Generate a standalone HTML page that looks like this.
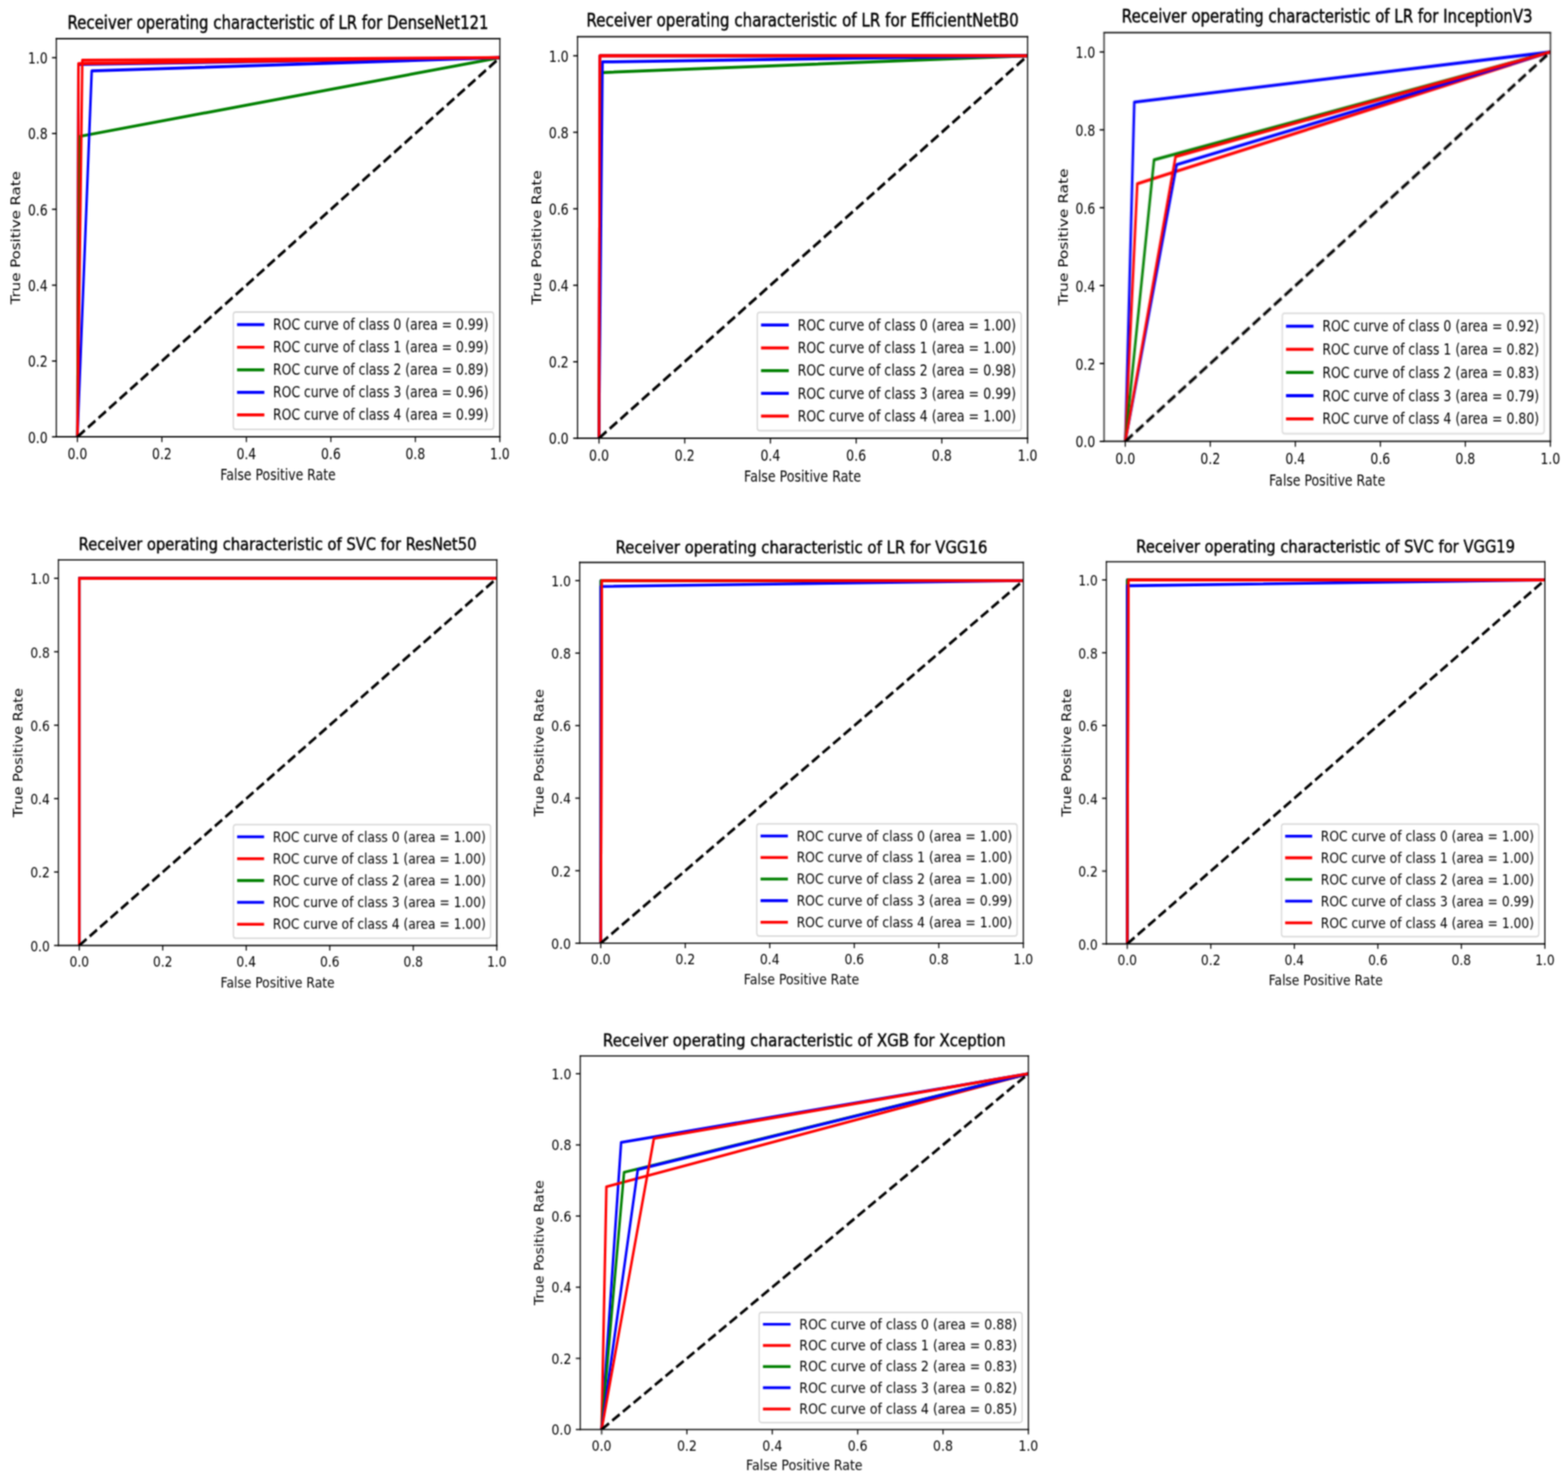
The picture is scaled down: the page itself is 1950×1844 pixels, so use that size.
<!DOCTYPE html>
<html><head><meta charset="utf-8"><title>ROC curves</title>
<style>html,body{margin:0;padding:0;background:#fff;}svg{display:block;}
svg *{stroke-linejoin:round;stroke-linecap:butt;}
svg text[style*="font-size: 12px"]{stroke:#000;stroke-width:0.28px;}</style></head>
<body><svg width="1950" height="1844" viewBox="0 0 1950 1844">
<defs><clipPath id="c0_pd0f956aa7e"> <rect x="57.6" y="41.472" width="357.12" height="266.112" /> </clipPath> <clipPath id="c1_pd0f956aa7e"> <rect x="57.6" y="41.472" width="357.12" height="266.112" /> </clipPath> <clipPath id="c2_pd0f956aa7e"> <rect x="57.6" y="41.472" width="357.12" height="266.112" /> </clipPath> <clipPath id="c3_pd0f956aa7e"> <rect x="57.6" y="41.472" width="357.12" height="266.112" /> </clipPath> <clipPath id="c4_pd0f956aa7e"> <rect x="57.6" y="41.472" width="357.12" height="266.112" /> </clipPath> <clipPath id="c5_pd0f956aa7e"> <rect x="57.6" y="41.472" width="357.12" height="266.112" /> </clipPath> <clipPath id="c6_pd0f956aa7e"> <rect x="57.6" y="41.472" width="357.12" height="266.112" /> </clipPath> <filter id="soft" x="0" y="0" width="1950" height="1844" filterUnits="userSpaceOnUse" color-interpolation-filters="sRGB"><feConvolveMatrix order="5" kernelMatrix="0.00087 0.00695 0.01388 0.00695 0.00087 0.00695 0.05540 0.11068 0.05540 0.00695 0.01388 0.11068 0.22111 0.11068 0.01388 0.00695 0.05540 0.11068 0.05540 0.00695 0.00087 0.00695 0.01388 0.00695 0.00087" edgeMode="duplicate"/></filter></defs>
<g filter="url(#soft)"><rect x="0" y="0" width="1950" height="1844" fill="#ffffff"/><g transform="matrix(1.54444 0 0 1.86049 -18.910 -29.058)"><g> <g> <path d="M 57.6 307.584  L 414.72 307.584  L 414.72 41.472  L 57.6 41.472  z " style="fill: #ffffff" /> </g> <g> <g> <g> <g> <path d="M 0 0  L 0 3.5  " transform="translate(74.605714 307.584)" style="stroke: #000000; stroke-width: 0.9" /></g> </g> <g> <text style="font-size: 10px; font-family: 'DejaVu Sans', 'Liberation Sans', sans-serif; text-anchor: middle" x="74.605714" y="322.504" transform="rotate(-0 74.605714 322.504)">0.0</text> </g> </g> <g> <g> <g> <path d="M 0 0  L 0 3.5  " transform="translate(142.628571 307.584)" style="stroke: #000000; stroke-width: 0.9" /></g> </g> <g> <text style="font-size: 10px; font-family: 'DejaVu Sans', 'Liberation Sans', sans-serif; text-anchor: middle" x="142.628571" y="322.504" transform="rotate(-0 142.628571 322.504)">0.2</text> </g> </g> <g> <g> <g> <path d="M 0 0  L 0 3.5  " transform="translate(210.651429 307.584)" style="stroke: #000000; stroke-width: 0.9" /></g> </g> <g> <text style="font-size: 10px; font-family: 'DejaVu Sans', 'Liberation Sans', sans-serif; text-anchor: middle" x="210.651429" y="322.504" transform="rotate(-0 210.651429 322.504)">0.4</text> </g> </g> <g> <g> <g> <path d="M 0 0  L 0 3.5  " transform="translate(278.674286 307.584)" style="stroke: #000000; stroke-width: 0.9" /></g> </g> <g> <text style="font-size: 10px; font-family: 'DejaVu Sans', 'Liberation Sans', sans-serif; text-anchor: middle" x="278.674286" y="322.504" transform="rotate(-0 278.674286 322.504)">0.6</text> </g> </g> <g> <g> <g> <path d="M 0 0  L 0 3.5  " transform="translate(346.697143 307.584)" style="stroke: #000000; stroke-width: 0.9" /></g> </g> <g> <text style="font-size: 10px; font-family: 'DejaVu Sans', 'Liberation Sans', sans-serif; text-anchor: middle" x="346.697143" y="322.504" transform="rotate(-0 346.697143 322.504)">0.8</text> </g> </g> <g> <g> <g> <path d="M 0 0  L 0 3.5  " transform="translate(414.72 307.584)" style="stroke: #000000; stroke-width: 0.9" /></g> </g> <g> <text style="font-size: 10px; font-family: 'DejaVu Sans', 'Liberation Sans', sans-serif; text-anchor: middle" x="414.72" y="322.504" transform="rotate(-0 414.72 322.504)">1.0</text> </g> </g> <g> <text style="font-size: 10px; font-family: 'DejaVu Sans', 'Liberation Sans', sans-serif; text-anchor: middle" x="236.16" y="336.584" transform="rotate(-0 236.16 336.584)">False Positive Rate</text> </g> </g> <g> <g> <g> <g> <path d="M 0 0  L -3.5 0  " transform="translate(57.6 307.584)" style="stroke: #000000; stroke-width: 0.9" /></g> </g> <g> <text style="font-size: 10px; font-family: 'DejaVu Sans', 'Liberation Sans', sans-serif; text-anchor: end" x="50.6" y="311.544" transform="rotate(-0 50.6 311.544)">0.0</text> </g> </g> <g> <g> <g> <path d="M 0 0  L -3.5 0  " transform="translate(57.6 256.896)" style="stroke: #000000; stroke-width: 0.9" /></g> </g> <g> <text style="font-size: 10px; font-family: 'DejaVu Sans', 'Liberation Sans', sans-serif; text-anchor: end" x="50.6" y="260.856" transform="rotate(-0 50.6 260.856)">0.2</text> </g> </g> <g> <g> <g> <path d="M 0 0  L -3.5 0  " transform="translate(57.6 206.208)" style="stroke: #000000; stroke-width: 0.9" /></g> </g> <g> <text style="font-size: 10px; font-family: 'DejaVu Sans', 'Liberation Sans', sans-serif; text-anchor: end" x="50.6" y="210.168" transform="rotate(-0 50.6 210.168)">0.4</text> </g> </g> <g> <g> <g> <path d="M 0 0  L -3.5 0  " transform="translate(57.6 155.52)" style="stroke: #000000; stroke-width: 0.9" /></g> </g> <g> <text style="font-size: 10px; font-family: 'DejaVu Sans', 'Liberation Sans', sans-serif; text-anchor: end" x="50.6" y="159.48" transform="rotate(-0 50.6 159.48)">0.6</text> </g> </g> <g> <g> <g> <path d="M 0 0  L -3.5 0  " transform="translate(57.6 104.832)" style="stroke: #000000; stroke-width: 0.9" /></g> </g> <g> <text style="font-size: 10px; font-family: 'DejaVu Sans', 'Liberation Sans', sans-serif; text-anchor: end" x="50.6" y="108.792" transform="rotate(-0 50.6 108.792)">0.8</text> </g> </g> <g> <g> <g> <path d="M 0 0  L -3.5 0  " transform="translate(57.6 54.144)" style="stroke: #000000; stroke-width: 0.9" /></g> </g> <g> <text style="font-size: 10px; font-family: 'DejaVu Sans', 'Liberation Sans', sans-serif; text-anchor: end" x="50.6" y="58.104" transform="rotate(-0 50.6 58.104)">1.0</text> </g> </g> <g> <text style="font-size: 10px; font-family: 'DejaVu Sans', 'Liberation Sans', sans-serif; text-anchor: middle" x="28.6" y="174.528" transform="rotate(-90 28.6 174.528)">True Positive Rate</text> </g> </g> <g> <path d="M 74.605714 307.584  L 75.387977 58.70592  L 414.72 54.144  " clip-path="url(#c0_pd0f956aa7e)" style="fill: none; stroke: #0000ff; stroke-width: 2; stroke-linecap: square" /> </g> <g> <path d="M 74.605714 307.584  L 75.387977 58.19904  L 414.72 54.144  " clip-path="url(#c0_pd0f956aa7e)" style="fill: none; stroke: #ff0000; stroke-width: 2; stroke-linecap: square" /> </g> <g> <path d="M 74.605714 307.584  L 76.748434 106.707456  L 414.72 54.144  " clip-path="url(#c0_pd0f956aa7e)" style="fill: none; stroke: #008000; stroke-width: 2; stroke-linecap: square" /> </g> <g> <path d="M 74.605714 307.584  L 86.101577 63.0144  L 414.72 54.144  " clip-path="url(#c0_pd0f956aa7e)" style="fill: none; stroke: #0000ff; stroke-width: 2; stroke-linecap: square" /> </g> <g> <path d="M 74.605714 307.584  L 78.517029 55.91808  L 414.72 54.144  " clip-path="url(#c0_pd0f956aa7e)" style="fill: none; stroke: #ff0000; stroke-width: 2; stroke-linecap: square" /> </g> <g> <path d="M 74.605714 307.584  L 414.72 54.144  " clip-path="url(#c0_pd0f956aa7e)" style="fill: none; stroke-dasharray: 7.4,3.2; stroke-dashoffset: 0; stroke: #000000; stroke-width: 2" /> </g> <g> <path d="M 57.6 307.584  L 57.6 41.472  " style="fill: none; stroke: #000000; stroke-width: 0.9; stroke-linejoin: miter; stroke-linecap: square" /> </g> <g> <path d="M 414.72 307.584  L 414.72 41.472  " style="fill: none; stroke: #000000; stroke-width: 0.9; stroke-linejoin: miter; stroke-linecap: square" /> </g> <g> <path d="M 57.6 307.584  L 414.72 307.584  " style="fill: none; stroke: #000000; stroke-width: 0.9; stroke-linejoin: miter; stroke-linecap: square" /> </g> <g> <path d="M 57.6 41.472  L 414.72 41.472  " style="fill: none; stroke: #000000; stroke-width: 0.9; stroke-linejoin: miter; stroke-linecap: square" /> </g> <g> <text style="font-size: 12px; font-family: 'DejaVu Sans', 'Liberation Sans', sans-serif; text-anchor: middle" x="236.16" y="35.472" transform="translate(0 -0.5912) rotate(-0 236.16 35.472)">Receiver operating characteristic of LR for DenseNet121</text> </g> <g> <g> <path d="M 202.11 302.584  L 407.72 302.584  Q 409.72 302.584 409.72 300.584  L 409.72 226.184  Q 409.72 224.184 407.72 224.184  L 202.11 224.184  Q 200.11 224.184 200.11 226.184  L 200.11 300.584  Q 200.11 302.584 202.11 302.584  z " style="fill: #ffffff; opacity: 0.8; stroke: #cccccc; stroke-linejoin: miter" /> </g> <g> <path d="M 204.11 232.604  L 214.11 232.604  L 224.11 232.604  " style="fill: none; stroke: #0000ff; stroke-width: 2; stroke-linecap: square" /> </g> <g> <text style="font-size: 10px; font-family: 'DejaVu Sans', 'Liberation Sans', sans-serif; text-anchor: start" x="232.11" y="236.104" transform="rotate(-0 232.11 236.104)">ROC curve of class 0 (area = 0.99)</text> </g> <g> <path d="M 204.11 247.684  L 214.11 247.684  L 224.11 247.684  " style="fill: none; stroke: #ff0000; stroke-width: 2; stroke-linecap: square" /> </g> <g> <text style="font-size: 10px; font-family: 'DejaVu Sans', 'Liberation Sans', sans-serif; text-anchor: start" x="232.11" y="251.184" transform="rotate(-0 232.11 251.184)">ROC curve of class 1 (area = 0.99)</text> </g> <g> <path d="M 204.11 262.764  L 214.11 262.764  L 224.11 262.764  " style="fill: none; stroke: #008000; stroke-width: 2; stroke-linecap: square" /> </g> <g> <text style="font-size: 10px; font-family: 'DejaVu Sans', 'Liberation Sans', sans-serif; text-anchor: start" x="232.11" y="266.264" transform="rotate(-0 232.11 266.264)">ROC curve of class 2 (area = 0.89)</text> </g> <g> <path d="M 204.11 277.844  L 214.11 277.844  L 224.11 277.844  " style="fill: none; stroke: #0000ff; stroke-width: 2; stroke-linecap: square" /> </g> <g> <text style="font-size: 10px; font-family: 'DejaVu Sans', 'Liberation Sans', sans-serif; text-anchor: start" x="232.11" y="281.344" transform="rotate(-0 232.11 281.344)">ROC curve of class 3 (area = 0.96)</text> </g> <g> <path d="M 204.11 292.924  L 214.11 292.924  L 224.11 292.924  " style="fill: none; stroke: #ff0000; stroke-width: 2; stroke-linecap: square" /> </g> <g> <text style="font-size: 10px; font-family: 'DejaVu Sans', 'Liberation Sans', sans-serif; text-anchor: start" x="232.11" y="296.424" transform="rotate(-0 232.11 296.424)">ROC curve of class 4 (area = 0.99)</text> </g> </g> </g> </g><g transform="matrix(1.56698 0 0 1.87628 628.042 -32.213)"><g> <g> <path d="M 57.6 307.584  L 414.72 307.584  L 414.72 41.472  L 57.6 41.472  z " style="fill: #ffffff" /> </g> <g> <g> <g> <g> <path d="M 0 0  L 0 3.5  " transform="translate(74.605714 307.584)" style="stroke: #000000; stroke-width: 0.9" /></g> </g> <g> <text style="font-size: 10px; font-family: 'DejaVu Sans', 'Liberation Sans', sans-serif; text-anchor: middle" x="74.605714" y="322.504" transform="rotate(-0 74.605714 322.504)">0.0</text> </g> </g> <g> <g> <g> <path d="M 0 0  L 0 3.5  " transform="translate(142.628571 307.584)" style="stroke: #000000; stroke-width: 0.9" /></g> </g> <g> <text style="font-size: 10px; font-family: 'DejaVu Sans', 'Liberation Sans', sans-serif; text-anchor: middle" x="142.628571" y="322.504" transform="rotate(-0 142.628571 322.504)">0.2</text> </g> </g> <g> <g> <g> <path d="M 0 0  L 0 3.5  " transform="translate(210.651429 307.584)" style="stroke: #000000; stroke-width: 0.9" /></g> </g> <g> <text style="font-size: 10px; font-family: 'DejaVu Sans', 'Liberation Sans', sans-serif; text-anchor: middle" x="210.651429" y="322.504" transform="rotate(-0 210.651429 322.504)">0.4</text> </g> </g> <g> <g> <g> <path d="M 0 0  L 0 3.5  " transform="translate(278.674286 307.584)" style="stroke: #000000; stroke-width: 0.9" /></g> </g> <g> <text style="font-size: 10px; font-family: 'DejaVu Sans', 'Liberation Sans', sans-serif; text-anchor: middle" x="278.674286" y="322.504" transform="rotate(-0 278.674286 322.504)">0.6</text> </g> </g> <g> <g> <g> <path d="M 0 0  L 0 3.5  " transform="translate(346.697143 307.584)" style="stroke: #000000; stroke-width: 0.9" /></g> </g> <g> <text style="font-size: 10px; font-family: 'DejaVu Sans', 'Liberation Sans', sans-serif; text-anchor: middle" x="346.697143" y="322.504" transform="rotate(-0 346.697143 322.504)">0.8</text> </g> </g> <g> <g> <g> <path d="M 0 0  L 0 3.5  " transform="translate(414.72 307.584)" style="stroke: #000000; stroke-width: 0.9" /></g> </g> <g> <text style="font-size: 10px; font-family: 'DejaVu Sans', 'Liberation Sans', sans-serif; text-anchor: middle" x="414.72" y="322.504" transform="rotate(-0 414.72 322.504)">1.0</text> </g> </g> <g> <text style="font-size: 10px; font-family: 'DejaVu Sans', 'Liberation Sans', sans-serif; text-anchor: middle" x="236.16" y="336.584" transform="rotate(-0 236.16 336.584)">False Positive Rate</text> </g> </g> <g> <g> <g> <g> <path d="M 0 0  L -3.5 0  " transform="translate(57.6 307.584)" style="stroke: #000000; stroke-width: 0.9" /></g> </g> <g> <text style="font-size: 10px; font-family: 'DejaVu Sans', 'Liberation Sans', sans-serif; text-anchor: end" x="50.6" y="311.544" transform="rotate(-0 50.6 311.544)">0.0</text> </g> </g> <g> <g> <g> <path d="M 0 0  L -3.5 0  " transform="translate(57.6 256.896)" style="stroke: #000000; stroke-width: 0.9" /></g> </g> <g> <text style="font-size: 10px; font-family: 'DejaVu Sans', 'Liberation Sans', sans-serif; text-anchor: end" x="50.6" y="260.856" transform="rotate(-0 50.6 260.856)">0.2</text> </g> </g> <g> <g> <g> <path d="M 0 0  L -3.5 0  " transform="translate(57.6 206.208)" style="stroke: #000000; stroke-width: 0.9" /></g> </g> <g> <text style="font-size: 10px; font-family: 'DejaVu Sans', 'Liberation Sans', sans-serif; text-anchor: end" x="50.6" y="210.168" transform="rotate(-0 50.6 210.168)">0.4</text> </g> </g> <g> <g> <g> <path d="M 0 0  L -3.5 0  " transform="translate(57.6 155.52)" style="stroke: #000000; stroke-width: 0.9" /></g> </g> <g> <text style="font-size: 10px; font-family: 'DejaVu Sans', 'Liberation Sans', sans-serif; text-anchor: end" x="50.6" y="159.48" transform="rotate(-0 50.6 159.48)">0.6</text> </g> </g> <g> <g> <g> <path d="M 0 0  L -3.5 0  " transform="translate(57.6 104.832)" style="stroke: #000000; stroke-width: 0.9" /></g> </g> <g> <text style="font-size: 10px; font-family: 'DejaVu Sans', 'Liberation Sans', sans-serif; text-anchor: end" x="50.6" y="108.792" transform="rotate(-0 50.6 108.792)">0.8</text> </g> </g> <g> <g> <g> <path d="M 0 0  L -3.5 0  " transform="translate(57.6 54.144)" style="stroke: #000000; stroke-width: 0.9" /></g> </g> <g> <text style="font-size: 10px; font-family: 'DejaVu Sans', 'Liberation Sans', sans-serif; text-anchor: end" x="50.6" y="58.104" transform="rotate(-0 50.6 58.104)">1.0</text> </g> </g> <g> <text style="font-size: 10px; font-family: 'DejaVu Sans', 'Liberation Sans', sans-serif; text-anchor: middle" x="28.6" y="174.528" transform="rotate(-90 28.6 174.528)">True Positive Rate</text> </g> </g> <g> <path d="M 74.605714 307.584  L 75.285943 54.144  L 414.72 54.144  " clip-path="url(#c1_pd0f956aa7e)" style="fill: none; stroke: #0000ff; stroke-width: 2; stroke-linecap: square" /> </g> <g> <path d="M 74.605714 307.584  L 75.285943 54.144  L 414.72 54.144  " clip-path="url(#c1_pd0f956aa7e)" style="fill: none; stroke: #ff0000; stroke-width: 2; stroke-linecap: square" /> </g> <g> <path d="M 74.605714 307.584  L 75.966171 65.29536  L 414.72 54.144  " clip-path="url(#c1_pd0f956aa7e)" style="fill: none; stroke: #008000; stroke-width: 2; stroke-linecap: square" /> </g> <g> <path d="M 74.605714 307.584  L 77.394651 58.19904  L 414.72 54.144  " clip-path="url(#c1_pd0f956aa7e)" style="fill: none; stroke: #0000ff; stroke-width: 2; stroke-linecap: square" /> </g> <g> <path d="M 74.605714 307.584  L 75.285943 54.144  L 414.72 54.144  " clip-path="url(#c1_pd0f956aa7e)" style="fill: none; stroke: #ff0000; stroke-width: 2; stroke-linecap: square" /> </g> <g> <path d="M 74.605714 307.584  L 414.72 54.144  " clip-path="url(#c1_pd0f956aa7e)" style="fill: none; stroke-dasharray: 7.4,3.2; stroke-dashoffset: 0; stroke: #000000; stroke-width: 2" /> </g> <g> <path d="M 57.6 307.584  L 57.6 41.472  " style="fill: none; stroke: #000000; stroke-width: 0.9; stroke-linejoin: miter; stroke-linecap: square" /> </g> <g> <path d="M 414.72 307.584  L 414.72 41.472  " style="fill: none; stroke: #000000; stroke-width: 0.9; stroke-linejoin: miter; stroke-linecap: square" /> </g> <g> <path d="M 57.6 307.584  L 414.72 307.584  " style="fill: none; stroke: #000000; stroke-width: 0.9; stroke-linejoin: miter; stroke-linecap: square" /> </g> <g> <path d="M 57.6 41.472  L 414.72 41.472  " style="fill: none; stroke: #000000; stroke-width: 0.9; stroke-linejoin: miter; stroke-linecap: square" /> </g> <g> <text style="font-size: 12px; font-family: 'DejaVu Sans', 'Liberation Sans', sans-serif; text-anchor: middle" x="236.16" y="35.472" transform="translate(0 -0.5863) rotate(-0 236.16 35.472)">Receiver operating characteristic of LR for EfficientNetB0</text> </g> <g> <g> <path d="M 202.2 302.584  L 407.72 302.584  Q 409.72 302.584 409.72 300.584  L 409.72 226.184  Q 409.72 224.184 407.72 224.184  L 202.2 224.184  Q 200.2 224.184 200.2 226.184  L 200.2 300.584  Q 200.2 302.584 202.2 302.584  z " style="fill: #ffffff; opacity: 0.8; stroke: #cccccc; stroke-linejoin: miter" /> </g> <g> <path d="M 204.2 232.604  L 214.2 232.604  L 224.2 232.604  " style="fill: none; stroke: #0000ff; stroke-width: 2; stroke-linecap: square" /> </g> <g> <text style="font-size: 10px; font-family: 'DejaVu Sans', 'Liberation Sans', sans-serif; text-anchor: start" x="232.2" y="236.104" transform="rotate(-0 232.2 236.104)">ROC curve of class 0 (area = 1.00)</text> </g> <g> <path d="M 204.2 247.684  L 214.2 247.684  L 224.2 247.684  " style="fill: none; stroke: #ff0000; stroke-width: 2; stroke-linecap: square" /> </g> <g> <text style="font-size: 10px; font-family: 'DejaVu Sans', 'Liberation Sans', sans-serif; text-anchor: start" x="232.2" y="251.184" transform="rotate(-0 232.2 251.184)">ROC curve of class 1 (area = 1.00)</text> </g> <g> <path d="M 204.2 262.764  L 214.2 262.764  L 224.2 262.764  " style="fill: none; stroke: #008000; stroke-width: 2; stroke-linecap: square" /> </g> <g> <text style="font-size: 10px; font-family: 'DejaVu Sans', 'Liberation Sans', sans-serif; text-anchor: start" x="232.2" y="266.264" transform="rotate(-0 232.2 266.264)">ROC curve of class 2 (area = 0.98)</text> </g> <g> <path d="M 204.2 277.844  L 214.2 277.844  L 224.2 277.844  " style="fill: none; stroke: #0000ff; stroke-width: 2; stroke-linecap: square" /> </g> <g> <text style="font-size: 10px; font-family: 'DejaVu Sans', 'Liberation Sans', sans-serif; text-anchor: start" x="232.2" y="281.344" transform="rotate(-0 232.2 281.344)">ROC curve of class 3 (area = 0.99)</text> </g> <g> <path d="M 204.2 292.924  L 214.2 292.924  L 224.2 292.924  " style="fill: none; stroke: #ff0000; stroke-width: 2; stroke-linecap: square" /> </g> <g> <text style="font-size: 10px; font-family: 'DejaVu Sans', 'Liberation Sans', sans-serif; text-anchor: start" x="232.2" y="296.424" transform="rotate(-0 232.2 296.424)">ROC curve of class 4 (area = 1.00)</text> </g> </g> </g> </g><g transform="matrix(1.55438 0 0 1.91047 1283.468 -38.831)"><g> <g> <path d="M 57.6 307.584  L 414.72 307.584  L 414.72 41.472  L 57.6 41.472  z " style="fill: #ffffff" /> </g> <g> <g> <g> <g> <path d="M 0 0  L 0 3.5  " transform="translate(74.605714 307.584)" style="stroke: #000000; stroke-width: 0.9" /></g> </g> <g> <text style="font-size: 10px; font-family: 'DejaVu Sans', 'Liberation Sans', sans-serif; text-anchor: middle" x="74.605714" y="322.504" transform="rotate(-0 74.605714 322.504)">0.0</text> </g> </g> <g> <g> <g> <path d="M 0 0  L 0 3.5  " transform="translate(142.628571 307.584)" style="stroke: #000000; stroke-width: 0.9" /></g> </g> <g> <text style="font-size: 10px; font-family: 'DejaVu Sans', 'Liberation Sans', sans-serif; text-anchor: middle" x="142.628571" y="322.504" transform="rotate(-0 142.628571 322.504)">0.2</text> </g> </g> <g> <g> <g> <path d="M 0 0  L 0 3.5  " transform="translate(210.651429 307.584)" style="stroke: #000000; stroke-width: 0.9" /></g> </g> <g> <text style="font-size: 10px; font-family: 'DejaVu Sans', 'Liberation Sans', sans-serif; text-anchor: middle" x="210.651429" y="322.504" transform="rotate(-0 210.651429 322.504)">0.4</text> </g> </g> <g> <g> <g> <path d="M 0 0  L 0 3.5  " transform="translate(278.674286 307.584)" style="stroke: #000000; stroke-width: 0.9" /></g> </g> <g> <text style="font-size: 10px; font-family: 'DejaVu Sans', 'Liberation Sans', sans-serif; text-anchor: middle" x="278.674286" y="322.504" transform="rotate(-0 278.674286 322.504)">0.6</text> </g> </g> <g> <g> <g> <path d="M 0 0  L 0 3.5  " transform="translate(346.697143 307.584)" style="stroke: #000000; stroke-width: 0.9" /></g> </g> <g> <text style="font-size: 10px; font-family: 'DejaVu Sans', 'Liberation Sans', sans-serif; text-anchor: middle" x="346.697143" y="322.504" transform="rotate(-0 346.697143 322.504)">0.8</text> </g> </g> <g> <g> <g> <path d="M 0 0  L 0 3.5  " transform="translate(414.72 307.584)" style="stroke: #000000; stroke-width: 0.9" /></g> </g> <g> <text style="font-size: 10px; font-family: 'DejaVu Sans', 'Liberation Sans', sans-serif; text-anchor: middle" x="414.72" y="322.504" transform="rotate(-0 414.72 322.504)">1.0</text> </g> </g> <g> <text style="font-size: 10px; font-family: 'DejaVu Sans', 'Liberation Sans', sans-serif; text-anchor: middle" x="236.16" y="336.584" transform="rotate(-0 236.16 336.584)">False Positive Rate</text> </g> </g> <g> <g> <g> <g> <path d="M 0 0  L -3.5 0  " transform="translate(57.6 307.584)" style="stroke: #000000; stroke-width: 0.9" /></g> </g> <g> <text style="font-size: 10px; font-family: 'DejaVu Sans', 'Liberation Sans', sans-serif; text-anchor: end" x="50.6" y="311.544" transform="rotate(-0 50.6 311.544)">0.0</text> </g> </g> <g> <g> <g> <path d="M 0 0  L -3.5 0  " transform="translate(57.6 256.896)" style="stroke: #000000; stroke-width: 0.9" /></g> </g> <g> <text style="font-size: 10px; font-family: 'DejaVu Sans', 'Liberation Sans', sans-serif; text-anchor: end" x="50.6" y="260.856" transform="rotate(-0 50.6 260.856)">0.2</text> </g> </g> <g> <g> <g> <path d="M 0 0  L -3.5 0  " transform="translate(57.6 206.208)" style="stroke: #000000; stroke-width: 0.9" /></g> </g> <g> <text style="font-size: 10px; font-family: 'DejaVu Sans', 'Liberation Sans', sans-serif; text-anchor: end" x="50.6" y="210.168" transform="rotate(-0 50.6 210.168)">0.4</text> </g> </g> <g> <g> <g> <path d="M 0 0  L -3.5 0  " transform="translate(57.6 155.52)" style="stroke: #000000; stroke-width: 0.9" /></g> </g> <g> <text style="font-size: 10px; font-family: 'DejaVu Sans', 'Liberation Sans', sans-serif; text-anchor: end" x="50.6" y="159.48" transform="rotate(-0 50.6 159.48)">0.6</text> </g> </g> <g> <g> <g> <path d="M 0 0  L -3.5 0  " transform="translate(57.6 104.832)" style="stroke: #000000; stroke-width: 0.9" /></g> </g> <g> <text style="font-size: 10px; font-family: 'DejaVu Sans', 'Liberation Sans', sans-serif; text-anchor: end" x="50.6" y="108.792" transform="rotate(-0 50.6 108.792)">0.8</text> </g> </g> <g> <g> <g> <path d="M 0 0  L -3.5 0  " transform="translate(57.6 54.144)" style="stroke: #000000; stroke-width: 0.9" /></g> </g> <g> <text style="font-size: 10px; font-family: 'DejaVu Sans', 'Liberation Sans', sans-serif; text-anchor: end" x="50.6" y="58.104" transform="rotate(-0 50.6 58.104)">1.0</text> </g> </g> <g> <text style="font-size: 10px; font-family: 'DejaVu Sans', 'Liberation Sans', sans-serif; text-anchor: middle" x="28.6" y="174.528" transform="rotate(-90 28.6 174.528)">True Positive Rate</text> </g> </g> <g> <path d="M 74.605714 307.584  L 81.782126 86.736384  L 414.72 54.144  " clip-path="url(#c2_pd0f956aa7e)" style="fill: none; stroke: #0000ff; stroke-width: 2; stroke-linecap: square" /> </g> <g> <path d="M 74.605714 307.584  L 84.162926 139.882752  L 414.72 54.144  " clip-path="url(#c2_pd0f956aa7e)" style="fill: none; stroke: #ff0000; stroke-width: 2; stroke-linecap: square" /> </g> <g> <path d="M 74.605714 307.584  L 97.563429 124.372224  L 414.72 54.144  " clip-path="url(#c2_pd0f956aa7e)" style="fill: none; stroke: #008000; stroke-width: 2; stroke-linecap: square" /> </g> <g> <path d="M 74.605714 307.584  L 115.69152 127.51488  L 414.72 54.144  " clip-path="url(#c2_pd0f956aa7e)" style="fill: none; stroke: #0000ff; stroke-width: 2; stroke-linecap: square" /> </g> <g> <path d="M 74.605714 307.584  L 114.807223 122.19264  L 414.72 54.144  " clip-path="url(#c2_pd0f956aa7e)" style="fill: none; stroke: #ff0000; stroke-width: 2; stroke-linecap: square" /> </g> <g> <path d="M 74.605714 307.584  L 414.72 54.144  " clip-path="url(#c2_pd0f956aa7e)" style="fill: none; stroke-dasharray: 7.4,3.2; stroke-dashoffset: 0; stroke: #000000; stroke-width: 2" /> </g> <g> <path d="M 57.6 307.584  L 57.6 41.472  " style="fill: none; stroke: #000000; stroke-width: 0.9; stroke-linejoin: miter; stroke-linecap: square" /> </g> <g> <path d="M 414.72 307.584  L 414.72 41.472  " style="fill: none; stroke: #000000; stroke-width: 0.9; stroke-linejoin: miter; stroke-linecap: square" /> </g> <g> <path d="M 57.6 307.584  L 414.72 307.584  " style="fill: none; stroke: #000000; stroke-width: 0.9; stroke-linejoin: miter; stroke-linecap: square" /> </g> <g> <path d="M 57.6 41.472  L 414.72 41.472  " style="fill: none; stroke: #000000; stroke-width: 0.9; stroke-linejoin: miter; stroke-linecap: square" /> </g> <g> <text style="font-size: 12px; font-family: 'DejaVu Sans', 'Liberation Sans', sans-serif; text-anchor: middle" x="236.16" y="35.472" transform="translate(0 -0.5758) rotate(-0 236.16 35.472)">Receiver operating characteristic of LR for InceptionV3</text> </g> <g> <g> <path d="M 202.2 302.584  L 407.72 302.584  Q 409.72 302.584 409.72 300.584  L 409.72 226.184  Q 409.72 224.184 407.72 224.184  L 202.2 224.184  Q 200.2 224.184 200.2 226.184  L 200.2 300.584  Q 200.2 302.584 202.2 302.584  z " style="fill: #ffffff; opacity: 0.8; stroke: #cccccc; stroke-linejoin: miter" /> </g> <g> <path d="M 204.2 232.604  L 214.2 232.604  L 224.2 232.604  " style="fill: none; stroke: #0000ff; stroke-width: 2; stroke-linecap: square" /> </g> <g> <text style="font-size: 10px; font-family: 'DejaVu Sans', 'Liberation Sans', sans-serif; text-anchor: start" x="232.2" y="236.104" transform="rotate(-0 232.2 236.104)">ROC curve of class 0 (area = 0.92)</text> </g> <g> <path d="M 204.2 247.684  L 214.2 247.684  L 224.2 247.684  " style="fill: none; stroke: #ff0000; stroke-width: 2; stroke-linecap: square" /> </g> <g> <text style="font-size: 10px; font-family: 'DejaVu Sans', 'Liberation Sans', sans-serif; text-anchor: start" x="232.2" y="251.184" transform="rotate(-0 232.2 251.184)">ROC curve of class 1 (area = 0.82)</text> </g> <g> <path d="M 204.2 262.764  L 214.2 262.764  L 224.2 262.764  " style="fill: none; stroke: #008000; stroke-width: 2; stroke-linecap: square" /> </g> <g> <text style="font-size: 10px; font-family: 'DejaVu Sans', 'Liberation Sans', sans-serif; text-anchor: start" x="232.2" y="266.264" transform="rotate(-0 232.2 266.264)">ROC curve of class 2 (area = 0.83)</text> </g> <g> <path d="M 204.2 277.844  L 214.2 277.844  L 224.2 277.844  " style="fill: none; stroke: #0000ff; stroke-width: 2; stroke-linecap: square" /> </g> <g> <text style="font-size: 10px; font-family: 'DejaVu Sans', 'Liberation Sans', sans-serif; text-anchor: start" x="232.2" y="281.344" transform="rotate(-0 232.2 281.344)">ROC curve of class 3 (area = 0.79)</text> </g> <g> <path d="M 204.2 292.924  L 214.2 292.924  L 224.2 292.924  " style="fill: none; stroke: #ff0000; stroke-width: 2; stroke-linecap: square" /> </g> <g> <text style="font-size: 10px; font-family: 'DejaVu Sans', 'Liberation Sans', sans-serif; text-anchor: start" x="232.2" y="296.424" transform="rotate(-0 232.2 296.424)">ROC curve of class 4 (area = 0.80)</text> </g> </g> </g> </g><g transform="matrix(1.52666 0 0 1.80112 -15.335 621.604)"><g> <g> <path d="M 57.6 307.584  L 414.72 307.584  L 414.72 41.472  L 57.6 41.472  z " style="fill: #ffffff" /> </g> <g> <g> <g> <g> <path d="M 0 0  L 0 3.5  " transform="translate(74.605714 307.584)" style="stroke: #000000; stroke-width: 0.9" /></g> </g> <g> <text style="font-size: 10px; font-family: 'DejaVu Sans', 'Liberation Sans', sans-serif; text-anchor: middle" x="74.605714" y="322.504" transform="rotate(-0 74.605714 322.504)">0.0</text> </g> </g> <g> <g> <g> <path d="M 0 0  L 0 3.5  " transform="translate(142.628571 307.584)" style="stroke: #000000; stroke-width: 0.9" /></g> </g> <g> <text style="font-size: 10px; font-family: 'DejaVu Sans', 'Liberation Sans', sans-serif; text-anchor: middle" x="142.628571" y="322.504" transform="rotate(-0 142.628571 322.504)">0.2</text> </g> </g> <g> <g> <g> <path d="M 0 0  L 0 3.5  " transform="translate(210.651429 307.584)" style="stroke: #000000; stroke-width: 0.9" /></g> </g> <g> <text style="font-size: 10px; font-family: 'DejaVu Sans', 'Liberation Sans', sans-serif; text-anchor: middle" x="210.651429" y="322.504" transform="rotate(-0 210.651429 322.504)">0.4</text> </g> </g> <g> <g> <g> <path d="M 0 0  L 0 3.5  " transform="translate(278.674286 307.584)" style="stroke: #000000; stroke-width: 0.9" /></g> </g> <g> <text style="font-size: 10px; font-family: 'DejaVu Sans', 'Liberation Sans', sans-serif; text-anchor: middle" x="278.674286" y="322.504" transform="rotate(-0 278.674286 322.504)">0.6</text> </g> </g> <g> <g> <g> <path d="M 0 0  L 0 3.5  " transform="translate(346.697143 307.584)" style="stroke: #000000; stroke-width: 0.9" /></g> </g> <g> <text style="font-size: 10px; font-family: 'DejaVu Sans', 'Liberation Sans', sans-serif; text-anchor: middle" x="346.697143" y="322.504" transform="rotate(-0 346.697143 322.504)">0.8</text> </g> </g> <g> <g> <g> <path d="M 0 0  L 0 3.5  " transform="translate(414.72 307.584)" style="stroke: #000000; stroke-width: 0.9" /></g> </g> <g> <text style="font-size: 10px; font-family: 'DejaVu Sans', 'Liberation Sans', sans-serif; text-anchor: middle" x="414.72" y="322.504" transform="rotate(-0 414.72 322.504)">1.0</text> </g> </g> <g> <text style="font-size: 10px; font-family: 'DejaVu Sans', 'Liberation Sans', sans-serif; text-anchor: middle" x="236.16" y="336.584" transform="rotate(-0 236.16 336.584)">False Positive Rate</text> </g> </g> <g> <g> <g> <g> <path d="M 0 0  L -3.5 0  " transform="translate(57.6 307.584)" style="stroke: #000000; stroke-width: 0.9" /></g> </g> <g> <text style="font-size: 10px; font-family: 'DejaVu Sans', 'Liberation Sans', sans-serif; text-anchor: end" x="50.6" y="311.544" transform="rotate(-0 50.6 311.544)">0.0</text> </g> </g> <g> <g> <g> <path d="M 0 0  L -3.5 0  " transform="translate(57.6 256.896)" style="stroke: #000000; stroke-width: 0.9" /></g> </g> <g> <text style="font-size: 10px; font-family: 'DejaVu Sans', 'Liberation Sans', sans-serif; text-anchor: end" x="50.6" y="260.856" transform="rotate(-0 50.6 260.856)">0.2</text> </g> </g> <g> <g> <g> <path d="M 0 0  L -3.5 0  " transform="translate(57.6 206.208)" style="stroke: #000000; stroke-width: 0.9" /></g> </g> <g> <text style="font-size: 10px; font-family: 'DejaVu Sans', 'Liberation Sans', sans-serif; text-anchor: end" x="50.6" y="210.168" transform="rotate(-0 50.6 210.168)">0.4</text> </g> </g> <g> <g> <g> <path d="M 0 0  L -3.5 0  " transform="translate(57.6 155.52)" style="stroke: #000000; stroke-width: 0.9" /></g> </g> <g> <text style="font-size: 10px; font-family: 'DejaVu Sans', 'Liberation Sans', sans-serif; text-anchor: end" x="50.6" y="159.48" transform="rotate(-0 50.6 159.48)">0.6</text> </g> </g> <g> <g> <g> <path d="M 0 0  L -3.5 0  " transform="translate(57.6 104.832)" style="stroke: #000000; stroke-width: 0.9" /></g> </g> <g> <text style="font-size: 10px; font-family: 'DejaVu Sans', 'Liberation Sans', sans-serif; text-anchor: end" x="50.6" y="108.792" transform="rotate(-0 50.6 108.792)">0.8</text> </g> </g> <g> <g> <g> <path d="M 0 0  L -3.5 0  " transform="translate(57.6 54.144)" style="stroke: #000000; stroke-width: 0.9" /></g> </g> <g> <text style="font-size: 10px; font-family: 'DejaVu Sans', 'Liberation Sans', sans-serif; text-anchor: end" x="50.6" y="58.104" transform="rotate(-0 50.6 58.104)">1.0</text> </g> </g> <g> <text style="font-size: 10px; font-family: 'DejaVu Sans', 'Liberation Sans', sans-serif; text-anchor: middle" x="28.6" y="174.528" transform="rotate(-90 28.6 174.528)">True Positive Rate</text> </g> </g> <g> <path d="M 74.605714 307.584  L 74.605714 54.144  L 414.72 54.144  " clip-path="url(#c3_pd0f956aa7e)" style="fill: none; stroke: #0000ff; stroke-width: 2; stroke-linecap: square" /> </g> <g> <path d="M 74.605714 307.584  L 74.605714 54.144  L 414.72 54.144  " clip-path="url(#c3_pd0f956aa7e)" style="fill: none; stroke: #ff0000; stroke-width: 2; stroke-linecap: square" /> </g> <g> <path d="M 74.605714 307.584  L 74.605714 54.144  L 414.72 54.144  " clip-path="url(#c3_pd0f956aa7e)" style="fill: none; stroke: #008000; stroke-width: 2; stroke-linecap: square" /> </g> <g> <path d="M 74.605714 307.584  L 74.605714 54.144  L 414.72 54.144  " clip-path="url(#c3_pd0f956aa7e)" style="fill: none; stroke: #0000ff; stroke-width: 2; stroke-linecap: square" /> </g> <g> <path d="M 74.605714 307.584  L 74.605714 54.144  L 414.72 54.144  " clip-path="url(#c3_pd0f956aa7e)" style="fill: none; stroke: #ff0000; stroke-width: 2; stroke-linecap: square" /> </g> <g> <path d="M 74.605714 307.584  L 414.72 54.144  " clip-path="url(#c3_pd0f956aa7e)" style="fill: none; stroke-dasharray: 7.4,3.2; stroke-dashoffset: 0; stroke: #000000; stroke-width: 2" /> </g> <g> <path d="M 57.6 307.584  L 57.6 41.472  " style="fill: none; stroke: #000000; stroke-width: 0.9; stroke-linejoin: miter; stroke-linecap: square" /> </g> <g> <path d="M 414.72 307.584  L 414.72 41.472  " style="fill: none; stroke: #000000; stroke-width: 0.9; stroke-linejoin: miter; stroke-linecap: square" /> </g> <g> <path d="M 57.6 307.584  L 414.72 307.584  " style="fill: none; stroke: #000000; stroke-width: 0.9; stroke-linejoin: miter; stroke-linecap: square" /> </g> <g> <path d="M 57.6 41.472  L 414.72 41.472  " style="fill: none; stroke: #000000; stroke-width: 0.9; stroke-linejoin: miter; stroke-linecap: square" /> </g> <g> <text style="font-size: 12px; font-family: 'DejaVu Sans', 'Liberation Sans', sans-serif; text-anchor: middle" x="236.16" y="35.472" transform="translate(0 -0.6107) rotate(-0 236.16 35.472)">Receiver operating characteristic of SVC for ResNet50</text> </g> <g> <g> <path d="M 202.2 302.584  L 407.72 302.584  Q 409.72 302.584 409.72 300.584  L 409.72 226.184  Q 409.72 224.184 407.72 224.184  L 202.2 224.184  Q 200.2 224.184 200.2 226.184  L 200.2 300.584  Q 200.2 302.584 202.2 302.584  z " style="fill: #ffffff; opacity: 0.8; stroke: #cccccc; stroke-linejoin: miter" /> </g> <g> <path d="M 204.2 232.604  L 214.2 232.604  L 224.2 232.604  " style="fill: none; stroke: #0000ff; stroke-width: 2; stroke-linecap: square" /> </g> <g> <text style="font-size: 10px; font-family: 'DejaVu Sans', 'Liberation Sans', sans-serif; text-anchor: start" x="232.2" y="236.104" transform="rotate(-0 232.2 236.104)">ROC curve of class 0 (area = 1.00)</text> </g> <g> <path d="M 204.2 247.684  L 214.2 247.684  L 224.2 247.684  " style="fill: none; stroke: #ff0000; stroke-width: 2; stroke-linecap: square" /> </g> <g> <text style="font-size: 10px; font-family: 'DejaVu Sans', 'Liberation Sans', sans-serif; text-anchor: start" x="232.2" y="251.184" transform="rotate(-0 232.2 251.184)">ROC curve of class 1 (area = 1.00)</text> </g> <g> <path d="M 204.2 262.764  L 214.2 262.764  L 224.2 262.764  " style="fill: none; stroke: #008000; stroke-width: 2; stroke-linecap: square" /> </g> <g> <text style="font-size: 10px; font-family: 'DejaVu Sans', 'Liberation Sans', sans-serif; text-anchor: start" x="232.2" y="266.264" transform="rotate(-0 232.2 266.264)">ROC curve of class 2 (area = 1.00)</text> </g> <g> <path d="M 204.2 277.844  L 214.2 277.844  L 224.2 277.844  " style="fill: none; stroke: #0000ff; stroke-width: 2; stroke-linecap: square" /> </g> <g> <text style="font-size: 10px; font-family: 'DejaVu Sans', 'Liberation Sans', sans-serif; text-anchor: start" x="232.2" y="281.344" transform="rotate(-0 232.2 281.344)">ROC curve of class 3 (area = 1.00)</text> </g> <g> <path d="M 204.2 292.924  L 214.2 292.924  L 224.2 292.924  " style="fill: none; stroke: #ff0000; stroke-width: 2; stroke-linecap: square" /> </g> <g> <text style="font-size: 10px; font-family: 'DejaVu Sans', 'Liberation Sans', sans-serif; text-anchor: start" x="232.2" y="296.424" transform="rotate(-0 232.2 296.424)">ROC curve of class 4 (area = 1.00)</text> </g> </g> </g> </g><g transform="matrix(1.54486 0 0 1.77895 631.916 625.623)"><g> <g> <path d="M 57.6 307.584  L 414.72 307.584  L 414.72 41.472  L 57.6 41.472  z " style="fill: #ffffff" /> </g> <g> <g> <g> <g> <path d="M 0 0  L 0 3.5  " transform="translate(74.605714 307.584)" style="stroke: #000000; stroke-width: 0.9" /></g> </g> <g> <text style="font-size: 10px; font-family: 'DejaVu Sans', 'Liberation Sans', sans-serif; text-anchor: middle" x="74.605714" y="322.504" transform="rotate(-0 74.605714 322.504)">0.0</text> </g> </g> <g> <g> <g> <path d="M 0 0  L 0 3.5  " transform="translate(142.628571 307.584)" style="stroke: #000000; stroke-width: 0.9" /></g> </g> <g> <text style="font-size: 10px; font-family: 'DejaVu Sans', 'Liberation Sans', sans-serif; text-anchor: middle" x="142.628571" y="322.504" transform="rotate(-0 142.628571 322.504)">0.2</text> </g> </g> <g> <g> <g> <path d="M 0 0  L 0 3.5  " transform="translate(210.651429 307.584)" style="stroke: #000000; stroke-width: 0.9" /></g> </g> <g> <text style="font-size: 10px; font-family: 'DejaVu Sans', 'Liberation Sans', sans-serif; text-anchor: middle" x="210.651429" y="322.504" transform="rotate(-0 210.651429 322.504)">0.4</text> </g> </g> <g> <g> <g> <path d="M 0 0  L 0 3.5  " transform="translate(278.674286 307.584)" style="stroke: #000000; stroke-width: 0.9" /></g> </g> <g> <text style="font-size: 10px; font-family: 'DejaVu Sans', 'Liberation Sans', sans-serif; text-anchor: middle" x="278.674286" y="322.504" transform="rotate(-0 278.674286 322.504)">0.6</text> </g> </g> <g> <g> <g> <path d="M 0 0  L 0 3.5  " transform="translate(346.697143 307.584)" style="stroke: #000000; stroke-width: 0.9" /></g> </g> <g> <text style="font-size: 10px; font-family: 'DejaVu Sans', 'Liberation Sans', sans-serif; text-anchor: middle" x="346.697143" y="322.504" transform="rotate(-0 346.697143 322.504)">0.8</text> </g> </g> <g> <g> <g> <path d="M 0 0  L 0 3.5  " transform="translate(414.72 307.584)" style="stroke: #000000; stroke-width: 0.9" /></g> </g> <g> <text style="font-size: 10px; font-family: 'DejaVu Sans', 'Liberation Sans', sans-serif; text-anchor: middle" x="414.72" y="322.504" transform="rotate(-0 414.72 322.504)">1.0</text> </g> </g> <g> <text style="font-size: 10px; font-family: 'DejaVu Sans', 'Liberation Sans', sans-serif; text-anchor: middle" x="236.16" y="336.584" transform="rotate(-0 236.16 336.584)">False Positive Rate</text> </g> </g> <g> <g> <g> <g> <path d="M 0 0  L -3.5 0  " transform="translate(57.6 307.584)" style="stroke: #000000; stroke-width: 0.9" /></g> </g> <g> <text style="font-size: 10px; font-family: 'DejaVu Sans', 'Liberation Sans', sans-serif; text-anchor: end" x="50.6" y="311.544" transform="rotate(-0 50.6 311.544)">0.0</text> </g> </g> <g> <g> <g> <path d="M 0 0  L -3.5 0  " transform="translate(57.6 256.896)" style="stroke: #000000; stroke-width: 0.9" /></g> </g> <g> <text style="font-size: 10px; font-family: 'DejaVu Sans', 'Liberation Sans', sans-serif; text-anchor: end" x="50.6" y="260.856" transform="rotate(-0 50.6 260.856)">0.2</text> </g> </g> <g> <g> <g> <path d="M 0 0  L -3.5 0  " transform="translate(57.6 206.208)" style="stroke: #000000; stroke-width: 0.9" /></g> </g> <g> <text style="font-size: 10px; font-family: 'DejaVu Sans', 'Liberation Sans', sans-serif; text-anchor: end" x="50.6" y="210.168" transform="rotate(-0 50.6 210.168)">0.4</text> </g> </g> <g> <g> <g> <path d="M 0 0  L -3.5 0  " transform="translate(57.6 155.52)" style="stroke: #000000; stroke-width: 0.9" /></g> </g> <g> <text style="font-size: 10px; font-family: 'DejaVu Sans', 'Liberation Sans', sans-serif; text-anchor: end" x="50.6" y="159.48" transform="rotate(-0 50.6 159.48)">0.6</text> </g> </g> <g> <g> <g> <path d="M 0 0  L -3.5 0  " transform="translate(57.6 104.832)" style="stroke: #000000; stroke-width: 0.9" /></g> </g> <g> <text style="font-size: 10px; font-family: 'DejaVu Sans', 'Liberation Sans', sans-serif; text-anchor: end" x="50.6" y="108.792" transform="rotate(-0 50.6 108.792)">0.8</text> </g> </g> <g> <g> <g> <path d="M 0 0  L -3.5 0  " transform="translate(57.6 54.144)" style="stroke: #000000; stroke-width: 0.9" /></g> </g> <g> <text style="font-size: 10px; font-family: 'DejaVu Sans', 'Liberation Sans', sans-serif; text-anchor: end" x="50.6" y="58.104" transform="rotate(-0 50.6 58.104)">1.0</text> </g> </g> <g> <text style="font-size: 10px; font-family: 'DejaVu Sans', 'Liberation Sans', sans-serif; text-anchor: middle" x="28.6" y="174.528" transform="rotate(-90 28.6 174.528)">True Positive Rate</text> </g> </g> <g> <path d="M 74.605714 307.584  L 74.605714 54.144  L 414.72 54.144  " clip-path="url(#c4_pd0f956aa7e)" style="fill: none; stroke: #0000ff; stroke-width: 2; stroke-linecap: square" /> </g> <g> <path d="M 74.605714 307.584  L 75.456 54.144  L 414.72 54.144  " clip-path="url(#c4_pd0f956aa7e)" style="fill: none; stroke: #ff0000; stroke-width: 2; stroke-linecap: square" /> </g> <g> <path d="M 74.605714 307.584  L 74.605714 54.144  L 414.72 54.144  " clip-path="url(#c4_pd0f956aa7e)" style="fill: none; stroke: #008000; stroke-width: 2; stroke-linecap: square" /> </g> <g> <path d="M 74.605714 307.584  L 74.605714 58.19904  L 414.72 54.144  " clip-path="url(#c4_pd0f956aa7e)" style="fill: none; stroke: #0000ff; stroke-width: 2; stroke-linecap: square" /> </g> <g> <path d="M 74.605714 307.584  L 75.456 54.144  L 414.72 54.144  " clip-path="url(#c4_pd0f956aa7e)" style="fill: none; stroke: #ff0000; stroke-width: 2; stroke-linecap: square" /> </g> <g> <path d="M 74.605714 307.584  L 414.72 54.144  " clip-path="url(#c4_pd0f956aa7e)" style="fill: none; stroke-dasharray: 7.4,3.2; stroke-dashoffset: 0; stroke: #000000; stroke-width: 2" /> </g> <g> <path d="M 57.6 307.584  L 57.6 41.472  " style="fill: none; stroke: #000000; stroke-width: 0.9; stroke-linejoin: miter; stroke-linecap: square" /> </g> <g> <path d="M 414.72 307.584  L 414.72 41.472  " style="fill: none; stroke: #000000; stroke-width: 0.9; stroke-linejoin: miter; stroke-linecap: square" /> </g> <g> <path d="M 57.6 307.584  L 414.72 307.584  " style="fill: none; stroke: #000000; stroke-width: 0.9; stroke-linejoin: miter; stroke-linecap: square" /> </g> <g> <path d="M 57.6 41.472  L 414.72 41.472  " style="fill: none; stroke: #000000; stroke-width: 0.9; stroke-linejoin: miter; stroke-linecap: square" /> </g> <g> <text style="font-size: 12px; font-family: 'DejaVu Sans', 'Liberation Sans', sans-serif; text-anchor: middle" x="236.16" y="35.472" transform="translate(0 -0.6183) rotate(-0 236.16 35.472)">Receiver operating characteristic of LR for VGG16</text> </g> <g> <g> <path d="M 202.2 302.584  L 407.72 302.584  Q 409.72 302.584 409.72 300.584  L 409.72 226.184  Q 409.72 224.184 407.72 224.184  L 202.2 224.184  Q 200.2 224.184 200.2 226.184  L 200.2 300.584  Q 200.2 302.584 202.2 302.584  z " style="fill: #ffffff; opacity: 0.8; stroke: #cccccc; stroke-linejoin: miter" /> </g> <g> <path d="M 204.2 232.604  L 214.2 232.604  L 224.2 232.604  " style="fill: none; stroke: #0000ff; stroke-width: 2; stroke-linecap: square" /> </g> <g> <text style="font-size: 10px; font-family: 'DejaVu Sans', 'Liberation Sans', sans-serif; text-anchor: start" x="232.2" y="236.104" transform="rotate(-0 232.2 236.104)">ROC curve of class 0 (area = 1.00)</text> </g> <g> <path d="M 204.2 247.684  L 214.2 247.684  L 224.2 247.684  " style="fill: none; stroke: #ff0000; stroke-width: 2; stroke-linecap: square" /> </g> <g> <text style="font-size: 10px; font-family: 'DejaVu Sans', 'Liberation Sans', sans-serif; text-anchor: start" x="232.2" y="251.184" transform="rotate(-0 232.2 251.184)">ROC curve of class 1 (area = 1.00)</text> </g> <g> <path d="M 204.2 262.764  L 214.2 262.764  L 224.2 262.764  " style="fill: none; stroke: #008000; stroke-width: 2; stroke-linecap: square" /> </g> <g> <text style="font-size: 10px; font-family: 'DejaVu Sans', 'Liberation Sans', sans-serif; text-anchor: start" x="232.2" y="266.264" transform="rotate(-0 232.2 266.264)">ROC curve of class 2 (area = 1.00)</text> </g> <g> <path d="M 204.2 277.844  L 214.2 277.844  L 224.2 277.844  " style="fill: none; stroke: #0000ff; stroke-width: 2; stroke-linecap: square" /> </g> <g> <text style="font-size: 10px; font-family: 'DejaVu Sans', 'Liberation Sans', sans-serif; text-anchor: start" x="232.2" y="281.344" transform="rotate(-0 232.2 281.344)">ROC curve of class 3 (area = 0.99)</text> </g> <g> <path d="M 204.2 292.924  L 214.2 292.924  L 224.2 292.924  " style="fill: none; stroke: #ff0000; stroke-width: 2; stroke-linecap: square" /> </g> <g> <text style="font-size: 10px; font-family: 'DejaVu Sans', 'Liberation Sans', sans-serif; text-anchor: start" x="232.2" y="296.424" transform="rotate(-0 232.2 296.424)">ROC curve of class 4 (area = 1.00)</text> </g> </g> </g> </g><g transform="matrix(1.52722 0 0 1.78534 1287.932 624.458)"><g> <g> <path d="M 57.6 307.584  L 414.72 307.584  L 414.72 41.472  L 57.6 41.472  z " style="fill: #ffffff" /> </g> <g> <g> <g> <g> <path d="M 0 0  L 0 3.5  " transform="translate(74.605714 307.584)" style="stroke: #000000; stroke-width: 0.9" /></g> </g> <g> <text style="font-size: 10px; font-family: 'DejaVu Sans', 'Liberation Sans', sans-serif; text-anchor: middle" x="74.605714" y="322.504" transform="rotate(-0 74.605714 322.504)">0.0</text> </g> </g> <g> <g> <g> <path d="M 0 0  L 0 3.5  " transform="translate(142.628571 307.584)" style="stroke: #000000; stroke-width: 0.9" /></g> </g> <g> <text style="font-size: 10px; font-family: 'DejaVu Sans', 'Liberation Sans', sans-serif; text-anchor: middle" x="142.628571" y="322.504" transform="rotate(-0 142.628571 322.504)">0.2</text> </g> </g> <g> <g> <g> <path d="M 0 0  L 0 3.5  " transform="translate(210.651429 307.584)" style="stroke: #000000; stroke-width: 0.9" /></g> </g> <g> <text style="font-size: 10px; font-family: 'DejaVu Sans', 'Liberation Sans', sans-serif; text-anchor: middle" x="210.651429" y="322.504" transform="rotate(-0 210.651429 322.504)">0.4</text> </g> </g> <g> <g> <g> <path d="M 0 0  L 0 3.5  " transform="translate(278.674286 307.584)" style="stroke: #000000; stroke-width: 0.9" /></g> </g> <g> <text style="font-size: 10px; font-family: 'DejaVu Sans', 'Liberation Sans', sans-serif; text-anchor: middle" x="278.674286" y="322.504" transform="rotate(-0 278.674286 322.504)">0.6</text> </g> </g> <g> <g> <g> <path d="M 0 0  L 0 3.5  " transform="translate(346.697143 307.584)" style="stroke: #000000; stroke-width: 0.9" /></g> </g> <g> <text style="font-size: 10px; font-family: 'DejaVu Sans', 'Liberation Sans', sans-serif; text-anchor: middle" x="346.697143" y="322.504" transform="rotate(-0 346.697143 322.504)">0.8</text> </g> </g> <g> <g> <g> <path d="M 0 0  L 0 3.5  " transform="translate(414.72 307.584)" style="stroke: #000000; stroke-width: 0.9" /></g> </g> <g> <text style="font-size: 10px; font-family: 'DejaVu Sans', 'Liberation Sans', sans-serif; text-anchor: middle" x="414.72" y="322.504" transform="rotate(-0 414.72 322.504)">1.0</text> </g> </g> <g> <text style="font-size: 10px; font-family: 'DejaVu Sans', 'Liberation Sans', sans-serif; text-anchor: middle" x="236.16" y="336.584" transform="rotate(-0 236.16 336.584)">False Positive Rate</text> </g> </g> <g> <g> <g> <g> <path d="M 0 0  L -3.5 0  " transform="translate(57.6 307.584)" style="stroke: #000000; stroke-width: 0.9" /></g> </g> <g> <text style="font-size: 10px; font-family: 'DejaVu Sans', 'Liberation Sans', sans-serif; text-anchor: end" x="50.6" y="311.544" transform="rotate(-0 50.6 311.544)">0.0</text> </g> </g> <g> <g> <g> <path d="M 0 0  L -3.5 0  " transform="translate(57.6 256.896)" style="stroke: #000000; stroke-width: 0.9" /></g> </g> <g> <text style="font-size: 10px; font-family: 'DejaVu Sans', 'Liberation Sans', sans-serif; text-anchor: end" x="50.6" y="260.856" transform="rotate(-0 50.6 260.856)">0.2</text> </g> </g> <g> <g> <g> <path d="M 0 0  L -3.5 0  " transform="translate(57.6 206.208)" style="stroke: #000000; stroke-width: 0.9" /></g> </g> <g> <text style="font-size: 10px; font-family: 'DejaVu Sans', 'Liberation Sans', sans-serif; text-anchor: end" x="50.6" y="210.168" transform="rotate(-0 50.6 210.168)">0.4</text> </g> </g> <g> <g> <g> <path d="M 0 0  L -3.5 0  " transform="translate(57.6 155.52)" style="stroke: #000000; stroke-width: 0.9" /></g> </g> <g> <text style="font-size: 10px; font-family: 'DejaVu Sans', 'Liberation Sans', sans-serif; text-anchor: end" x="50.6" y="159.48" transform="rotate(-0 50.6 159.48)">0.6</text> </g> </g> <g> <g> <g> <path d="M 0 0  L -3.5 0  " transform="translate(57.6 104.832)" style="stroke: #000000; stroke-width: 0.9" /></g> </g> <g> <text style="font-size: 10px; font-family: 'DejaVu Sans', 'Liberation Sans', sans-serif; text-anchor: end" x="50.6" y="108.792" transform="rotate(-0 50.6 108.792)">0.8</text> </g> </g> <g> <g> <g> <path d="M 0 0  L -3.5 0  " transform="translate(57.6 54.144)" style="stroke: #000000; stroke-width: 0.9" /></g> </g> <g> <text style="font-size: 10px; font-family: 'DejaVu Sans', 'Liberation Sans', sans-serif; text-anchor: end" x="50.6" y="58.104" transform="rotate(-0 50.6 58.104)">1.0</text> </g> </g> <g> <text style="font-size: 10px; font-family: 'DejaVu Sans', 'Liberation Sans', sans-serif; text-anchor: middle" x="28.6" y="174.528" transform="rotate(-90 28.6 174.528)">True Positive Rate</text> </g> </g> <g> <path d="M 74.605714 307.584  L 74.605714 54.144  L 414.72 54.144  " clip-path="url(#c5_pd0f956aa7e)" style="fill: none; stroke: #0000ff; stroke-width: 2; stroke-linecap: square" /> </g> <g> <path d="M 74.605714 307.584  L 75.558034 54.144  L 414.72 54.144  " clip-path="url(#c5_pd0f956aa7e)" style="fill: none; stroke: #ff0000; stroke-width: 2; stroke-linecap: square" /> </g> <g> <path d="M 74.605714 307.584  L 74.605714 54.144  L 414.72 54.144  " clip-path="url(#c5_pd0f956aa7e)" style="fill: none; stroke: #008000; stroke-width: 2; stroke-linecap: square" /> </g> <g> <path d="M 74.605714 307.584  L 74.605714 58.19904  L 414.72 54.144  " clip-path="url(#c5_pd0f956aa7e)" style="fill: none; stroke: #0000ff; stroke-width: 2; stroke-linecap: square" /> </g> <g> <path d="M 74.605714 307.584  L 75.558034 54.144  L 414.72 54.144  " clip-path="url(#c5_pd0f956aa7e)" style="fill: none; stroke: #ff0000; stroke-width: 2; stroke-linecap: square" /> </g> <g> <path d="M 74.605714 307.584  L 414.72 54.144  " clip-path="url(#c5_pd0f956aa7e)" style="fill: none; stroke-dasharray: 7.4,3.2; stroke-dashoffset: 0; stroke: #000000; stroke-width: 2" /> </g> <g> <path d="M 57.6 307.584  L 57.6 41.472  " style="fill: none; stroke: #000000; stroke-width: 0.9; stroke-linejoin: miter; stroke-linecap: square" /> </g> <g> <path d="M 414.72 307.584  L 414.72 41.472  " style="fill: none; stroke: #000000; stroke-width: 0.9; stroke-linejoin: miter; stroke-linecap: square" /> </g> <g> <path d="M 57.6 307.584  L 414.72 307.584  " style="fill: none; stroke: #000000; stroke-width: 0.9; stroke-linejoin: miter; stroke-linecap: square" /> </g> <g> <path d="M 57.6 41.472  L 414.72 41.472  " style="fill: none; stroke: #000000; stroke-width: 0.9; stroke-linejoin: miter; stroke-linecap: square" /> </g> <g> <text style="font-size: 12px; font-family: 'DejaVu Sans', 'Liberation Sans', sans-serif; text-anchor: middle" x="236.16" y="35.472" transform="translate(0 -0.6161) rotate(-0 236.16 35.472)">Receiver operating characteristic of SVC for VGG19</text> </g> <g> <g> <path d="M 202.2 302.584  L 407.72 302.584  Q 409.72 302.584 409.72 300.584  L 409.72 226.184  Q 409.72 224.184 407.72 224.184  L 202.2 224.184  Q 200.2 224.184 200.2 226.184  L 200.2 300.584  Q 200.2 302.584 202.2 302.584  z " style="fill: #ffffff; opacity: 0.8; stroke: #cccccc; stroke-linejoin: miter" /> </g> <g> <path d="M 204.2 232.604  L 214.2 232.604  L 224.2 232.604  " style="fill: none; stroke: #0000ff; stroke-width: 2; stroke-linecap: square" /> </g> <g> <text style="font-size: 10px; font-family: 'DejaVu Sans', 'Liberation Sans', sans-serif; text-anchor: start" x="232.2" y="236.104" transform="rotate(-0 232.2 236.104)">ROC curve of class 0 (area = 1.00)</text> </g> <g> <path d="M 204.2 247.684  L 214.2 247.684  L 224.2 247.684  " style="fill: none; stroke: #ff0000; stroke-width: 2; stroke-linecap: square" /> </g> <g> <text style="font-size: 10px; font-family: 'DejaVu Sans', 'Liberation Sans', sans-serif; text-anchor: start" x="232.2" y="251.184" transform="rotate(-0 232.2 251.184)">ROC curve of class 1 (area = 1.00)</text> </g> <g> <path d="M 204.2 262.764  L 214.2 262.764  L 224.2 262.764  " style="fill: none; stroke: #008000; stroke-width: 2; stroke-linecap: square" /> </g> <g> <text style="font-size: 10px; font-family: 'DejaVu Sans', 'Liberation Sans', sans-serif; text-anchor: start" x="232.2" y="266.264" transform="rotate(-0 232.2 266.264)">ROC curve of class 2 (area = 1.00)</text> </g> <g> <path d="M 204.2 277.844  L 214.2 277.844  L 224.2 277.844  " style="fill: none; stroke: #0000ff; stroke-width: 2; stroke-linecap: square" /> </g> <g> <text style="font-size: 10px; font-family: 'DejaVu Sans', 'Liberation Sans', sans-serif; text-anchor: start" x="232.2" y="281.344" transform="rotate(-0 232.2 281.344)">ROC curve of class 3 (area = 0.99)</text> </g> <g> <path d="M 204.2 292.924  L 214.2 292.924  L 224.2 292.924  " style="fill: none; stroke: #ff0000; stroke-width: 2; stroke-linecap: square" /> </g> <g> <text style="font-size: 10px; font-family: 'DejaVu Sans', 'Liberation Sans', sans-serif; text-anchor: start" x="232.2" y="296.424" transform="rotate(-0 232.2 296.424)">ROC curve of class 4 (area = 1.00)</text> </g> </g> </g> </g><g transform="matrix(1.56054 0 0 1.74551 631.713 1240.610)"><g> <g> <path d="M 57.6 307.584  L 414.72 307.584  L 414.72 41.472  L 57.6 41.472  z " style="fill: #ffffff" /> </g> <g> <g> <g> <g> <path d="M 0 0  L 0 3.5  " transform="translate(74.605714 307.584)" style="stroke: #000000; stroke-width: 0.9" /></g> </g> <g> <text style="font-size: 10px; font-family: 'DejaVu Sans', 'Liberation Sans', sans-serif; text-anchor: middle" x="74.605714" y="322.504" transform="rotate(-0 74.605714 322.504)">0.0</text> </g> </g> <g> <g> <g> <path d="M 0 0  L 0 3.5  " transform="translate(142.628571 307.584)" style="stroke: #000000; stroke-width: 0.9" /></g> </g> <g> <text style="font-size: 10px; font-family: 'DejaVu Sans', 'Liberation Sans', sans-serif; text-anchor: middle" x="142.628571" y="322.504" transform="rotate(-0 142.628571 322.504)">0.2</text> </g> </g> <g> <g> <g> <path d="M 0 0  L 0 3.5  " transform="translate(210.651429 307.584)" style="stroke: #000000; stroke-width: 0.9" /></g> </g> <g> <text style="font-size: 10px; font-family: 'DejaVu Sans', 'Liberation Sans', sans-serif; text-anchor: middle" x="210.651429" y="322.504" transform="rotate(-0 210.651429 322.504)">0.4</text> </g> </g> <g> <g> <g> <path d="M 0 0  L 0 3.5  " transform="translate(278.674286 307.584)" style="stroke: #000000; stroke-width: 0.9" /></g> </g> <g> <text style="font-size: 10px; font-family: 'DejaVu Sans', 'Liberation Sans', sans-serif; text-anchor: middle" x="278.674286" y="322.504" transform="rotate(-0 278.674286 322.504)">0.6</text> </g> </g> <g> <g> <g> <path d="M 0 0  L 0 3.5  " transform="translate(346.697143 307.584)" style="stroke: #000000; stroke-width: 0.9" /></g> </g> <g> <text style="font-size: 10px; font-family: 'DejaVu Sans', 'Liberation Sans', sans-serif; text-anchor: middle" x="346.697143" y="322.504" transform="rotate(-0 346.697143 322.504)">0.8</text> </g> </g> <g> <g> <g> <path d="M 0 0  L 0 3.5  " transform="translate(414.72 307.584)" style="stroke: #000000; stroke-width: 0.9" /></g> </g> <g> <text style="font-size: 10px; font-family: 'DejaVu Sans', 'Liberation Sans', sans-serif; text-anchor: middle" x="414.72" y="322.504" transform="rotate(-0 414.72 322.504)">1.0</text> </g> </g> <g> <text style="font-size: 10px; font-family: 'DejaVu Sans', 'Liberation Sans', sans-serif; text-anchor: middle" x="236.16" y="336.584" transform="rotate(-0 236.16 336.584)">False Positive Rate</text> </g> </g> <g> <g> <g> <g> <path d="M 0 0  L -3.5 0  " transform="translate(57.6 307.584)" style="stroke: #000000; stroke-width: 0.9" /></g> </g> <g> <text style="font-size: 10px; font-family: 'DejaVu Sans', 'Liberation Sans', sans-serif; text-anchor: end" x="50.6" y="311.544" transform="rotate(-0 50.6 311.544)">0.0</text> </g> </g> <g> <g> <g> <path d="M 0 0  L -3.5 0  " transform="translate(57.6 256.896)" style="stroke: #000000; stroke-width: 0.9" /></g> </g> <g> <text style="font-size: 10px; font-family: 'DejaVu Sans', 'Liberation Sans', sans-serif; text-anchor: end" x="50.6" y="260.856" transform="rotate(-0 50.6 260.856)">0.2</text> </g> </g> <g> <g> <g> <path d="M 0 0  L -3.5 0  " transform="translate(57.6 206.208)" style="stroke: #000000; stroke-width: 0.9" /></g> </g> <g> <text style="font-size: 10px; font-family: 'DejaVu Sans', 'Liberation Sans', sans-serif; text-anchor: end" x="50.6" y="210.168" transform="rotate(-0 50.6 210.168)">0.4</text> </g> </g> <g> <g> <g> <path d="M 0 0  L -3.5 0  " transform="translate(57.6 155.52)" style="stroke: #000000; stroke-width: 0.9" /></g> </g> <g> <text style="font-size: 10px; font-family: 'DejaVu Sans', 'Liberation Sans', sans-serif; text-anchor: end" x="50.6" y="159.48" transform="rotate(-0 50.6 159.48)">0.6</text> </g> </g> <g> <g> <g> <path d="M 0 0  L -3.5 0  " transform="translate(57.6 104.832)" style="stroke: #000000; stroke-width: 0.9" /></g> </g> <g> <text style="font-size: 10px; font-family: 'DejaVu Sans', 'Liberation Sans', sans-serif; text-anchor: end" x="50.6" y="108.792" transform="rotate(-0 50.6 108.792)">0.8</text> </g> </g> <g> <g> <g> <path d="M 0 0  L -3.5 0  " transform="translate(57.6 54.144)" style="stroke: #000000; stroke-width: 0.9" /></g> </g> <g> <text style="font-size: 10px; font-family: 'DejaVu Sans', 'Liberation Sans', sans-serif; text-anchor: end" x="50.6" y="58.104" transform="rotate(-0 50.6 58.104)">1.0</text> </g> </g> <g> <text style="font-size: 10px; font-family: 'DejaVu Sans', 'Liberation Sans', sans-serif; text-anchor: middle" x="28.6" y="174.528" transform="rotate(-90 28.6 174.528)">True Positive Rate</text> </g> </g> <g> <path d="M 74.605714 307.584  L 90.182949 103.05792  L 414.72 54.144  " clip-path="url(#c6_pd0f956aa7e)" style="fill: none; stroke: #0000ff; stroke-width: 2; stroke-linecap: square" /> </g> <g> <path d="M 74.605714 307.584  L 78.449006 134.636544  L 414.72 54.144  " clip-path="url(#c6_pd0f956aa7e)" style="fill: none; stroke: #ff0000; stroke-width: 2; stroke-linecap: square" /> </g> <g> <path d="M 74.605714 307.584  L 92.529737 124.321536  L 414.72 54.144  " clip-path="url(#c6_pd0f956aa7e)" style="fill: none; stroke: #008000; stroke-width: 2; stroke-linecap: square" /> </g> <g> <path d="M 74.605714 307.584  L 103.481417 122.370048  L 414.72 54.144  " clip-path="url(#c6_pd0f956aa7e)" style="fill: none; stroke: #0000ff; stroke-width: 2; stroke-linecap: square" /> </g> <g> <path d="M 74.605714 307.584  L 116.303726 100.27008  L 414.72 54.144  " clip-path="url(#c6_pd0f956aa7e)" style="fill: none; stroke: #ff0000; stroke-width: 2; stroke-linecap: square" /> </g> <g> <path d="M 74.605714 307.584  L 414.72 54.144  " clip-path="url(#c6_pd0f956aa7e)" style="fill: none; stroke-dasharray: 7.4,3.2; stroke-dashoffset: 0; stroke: #000000; stroke-width: 2" /> </g> <g> <path d="M 57.6 307.584  L 57.6 41.472  " style="fill: none; stroke: #000000; stroke-width: 0.9; stroke-linejoin: miter; stroke-linecap: square" /> </g> <g> <path d="M 414.72 307.584  L 414.72 41.472  " style="fill: none; stroke: #000000; stroke-width: 0.9; stroke-linejoin: miter; stroke-linecap: square" /> </g> <g> <path d="M 57.6 307.584  L 414.72 307.584  " style="fill: none; stroke: #000000; stroke-width: 0.9; stroke-linejoin: miter; stroke-linecap: square" /> </g> <g> <path d="M 57.6 41.472  L 414.72 41.472  " style="fill: none; stroke: #000000; stroke-width: 0.9; stroke-linejoin: miter; stroke-linecap: square" /> </g> <g> <text style="font-size: 12px; font-family: 'DejaVu Sans', 'Liberation Sans', sans-serif; text-anchor: middle" x="236.16" y="35.472" transform="translate(0 -0.6302) rotate(-0 236.16 35.472)">Receiver operating characteristic of XGB for Xception</text> </g> <g> <g> <path d="M 202.2 302.584  L 407.72 302.584  Q 409.72 302.584 409.72 300.584  L 409.72 226.184  Q 409.72 224.184 407.72 224.184  L 202.2 224.184  Q 200.2 224.184 200.2 226.184  L 200.2 300.584  Q 200.2 302.584 202.2 302.584  z " style="fill: #ffffff; opacity: 0.8; stroke: #cccccc; stroke-linejoin: miter" /> </g> <g> <path d="M 204.2 232.604  L 214.2 232.604  L 224.2 232.604  " style="fill: none; stroke: #0000ff; stroke-width: 2; stroke-linecap: square" /> </g> <g> <text style="font-size: 10px; font-family: 'DejaVu Sans', 'Liberation Sans', sans-serif; text-anchor: start" x="232.2" y="236.104" transform="rotate(-0 232.2 236.104)">ROC curve of class 0 (area = 0.88)</text> </g> <g> <path d="M 204.2 247.684  L 214.2 247.684  L 224.2 247.684  " style="fill: none; stroke: #ff0000; stroke-width: 2; stroke-linecap: square" /> </g> <g> <text style="font-size: 10px; font-family: 'DejaVu Sans', 'Liberation Sans', sans-serif; text-anchor: start" x="232.2" y="251.184" transform="rotate(-0 232.2 251.184)">ROC curve of class 1 (area = 0.83)</text> </g> <g> <path d="M 204.2 262.764  L 214.2 262.764  L 224.2 262.764  " style="fill: none; stroke: #008000; stroke-width: 2; stroke-linecap: square" /> </g> <g> <text style="font-size: 10px; font-family: 'DejaVu Sans', 'Liberation Sans', sans-serif; text-anchor: start" x="232.2" y="266.264" transform="rotate(-0 232.2 266.264)">ROC curve of class 2 (area = 0.83)</text> </g> <g> <path d="M 204.2 277.844  L 214.2 277.844  L 224.2 277.844  " style="fill: none; stroke: #0000ff; stroke-width: 2; stroke-linecap: square" /> </g> <g> <text style="font-size: 10px; font-family: 'DejaVu Sans', 'Liberation Sans', sans-serif; text-anchor: start" x="232.2" y="281.344" transform="rotate(-0 232.2 281.344)">ROC curve of class 3 (area = 0.82)</text> </g> <g> <path d="M 204.2 292.924  L 214.2 292.924  L 224.2 292.924  " style="fill: none; stroke: #ff0000; stroke-width: 2; stroke-linecap: square" /> </g> <g> <text style="font-size: 10px; font-family: 'DejaVu Sans', 'Liberation Sans', sans-serif; text-anchor: start" x="232.2" y="296.424" transform="rotate(-0 232.2 296.424)">ROC curve of class 4 (area = 0.85)</text> </g> </g> </g> </g></g>
</svg></body></html>
